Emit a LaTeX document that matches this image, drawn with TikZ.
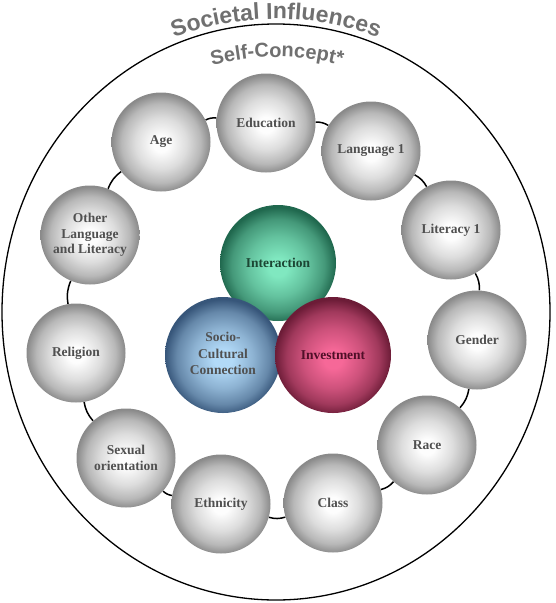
\documentclass[tikz,border=0pt]{standalone}
\usepackage{fontspec}
\setmainfont{Liberation Serif}
\setsansfont{Liberation Sans}
\usetikzlibrary{decorations.text,backgrounds}
\definecolor{sphtext}{RGB}{80,80,80}
\definecolor{titlegray}{RGB}{112,112,112}
\definecolor{gedge}{RGB}{138,138,138}
\definecolor{gcen}{RGB}{253,253,253}
\definecolor{tedge}{RGB}{32,104,78}
\definecolor{tcen}{RGB}{128,232,192}
\definecolor{bedge}{RGB}{55,86,122}
\definecolor{bcen}{RGB}{178,218,248}
\definecolor{redge}{RGB}{108,28,55}
\definecolor{rcen}{RGB}{246,104,152}
\definecolor{inttext}{RGB}{28,70,52}
\definecolor{invtext}{RGB}{80,15,40}
\pgfdeclareradialshading{graysph}{\pgfpoint{0bp}{-1bp}}{color(0bp)=(gcen); color(4bp)=(gcen); color(13bp)=(gcen!72!gedge); color(20bp)=(gcen!40!gedge); color(25bp)=(gedge); color(50bp)=(gedge)}
\pgfdeclareradialshading{greensph}{\pgfpoint{0bp}{-2bp}}{color(0bp)=(tcen); color(4bp)=(tcen); color(13bp)=(tcen!70!tedge); color(20bp)=(tcen!38!tedge); color(25bp)=(tedge); color(50bp)=(tedge)}
\pgfdeclareradialshading{bluesph}{\pgfpoint{0bp}{-2bp}}{color(0bp)=(bcen); color(4bp)=(bcen); color(13bp)=(bcen!70!bedge); color(20bp)=(bcen!38!bedge); color(25bp)=(bedge); color(50bp)=(bedge)}
\pgfdeclareradialshading{redsph}{\pgfpoint{0bp}{-2bp}}{color(0bp)=(rcen); color(4bp)=(rcen); color(13bp)=(rcen!70!redge); color(20bp)=(rcen!38!redge); color(25bp)=(redge); color(50bp)=(redge)}
\tikzset{
  sph/.style={circle, minimum size=99pt, inner sep=0pt, shade, shading=graysph,
    font=\bfseries\fontsize{13.5}{15.5}\selectfont, text=sphtext, align=center},
  bigsph/.style={circle, minimum size=116pt, inner sep=0pt, shade,
    font=\bfseries\fontsize{13.5}{16.5}\selectfont, align=center},
  ring/.style={line width=1.5pt, black},
}
\begin{document}
\begin{tikzpicture}[x=1pt,y=1pt]
\useasboundingbox (0,0) rectangle (555,-603);
% outer boundary
\draw[line width=1.3pt] (276,-312) ellipse [x radius=274, y radius=288];
% titles
\path[decorate, decoration={text along path, text align=center, text color=titlegray,
  text={|\sffamily\bfseries\fontsize{23}{23}\selectfont|Societal Influences}}]
  (276,-312) ++(125:293) arc[start angle=125, end angle=55, radius=293];
\path[decorate, decoration={text along path, text align=center, text color=titlegray,
  text={|\sffamily\bfseries\fontsize{20}{20}\selectfont|Self-Concept*}}]
  (277,-317) ++(125:260) arc[start angle=125, end angle=55, radius=260];
% ring spheres
\node[sph] (edu)  at (266,-123) {Education};
\node[sph] (lang) at (371,-151) {Language 1};
\node[sph] (lit)  at (451,-230) {Literacy 1};
\node[sph] (gen)  at (477,-340) {Gender};
\node[sph] (race) at (427,-445) {Race};
\node[sph] (cls)  at (333,-503) {Class};
\node[sph] (eth)  at (221,-504) {Ethnicity};
\node[sph] (sex)  at (126,-458) {Sexual\\orientation};
\node[sph] (rel)  at (76,-353)  {Religion};
\node[sph] (oth)  at (90,-235)  {Other\\Language\\and Literacy};
\node[sph] (age)  at (161,-142) {Age};
% central spheres
\node[bigsph, shading=greensph, text=inttext] (int) at (278,-263) {\raisebox{-3pt}{Interaction}};
\node[bigsph, shading=bluesph, text=sphtext] (soc) at (223,-355) {\raisebox{-9pt}{\begin{tabular}{@{}c@{}}Socio-\\Cultural\\Connection\end{tabular}}};
\node[bigsph, shading=redsph, text=invtext] (inv) at (333,-355) {Investment};
% ring connectors
\begin{scope}[on background layer]
\draw[ring] (edu) to[bend left=16] (lang);
\draw[ring] (lang) to[bend left=16] (lit);
\draw[ring] (lit) to[bend left=16] (gen);
\draw[ring] (gen) to[bend left=16] (race);
\draw[ring] (race) to[bend left=16] (cls);
\draw[ring] (cls) to[bend left=16] (eth);
\draw[ring] (eth) to[bend left=16] (sex);
\draw[ring] (sex) to[bend left=16] (rel);
\draw[ring] (rel) to[bend left=16] (oth);
\draw[ring] (oth) to[bend left=16] (age);
\draw[ring] (age) to[bend left=16] (edu);
\end{scope}
\end{tikzpicture}
\end{document}
